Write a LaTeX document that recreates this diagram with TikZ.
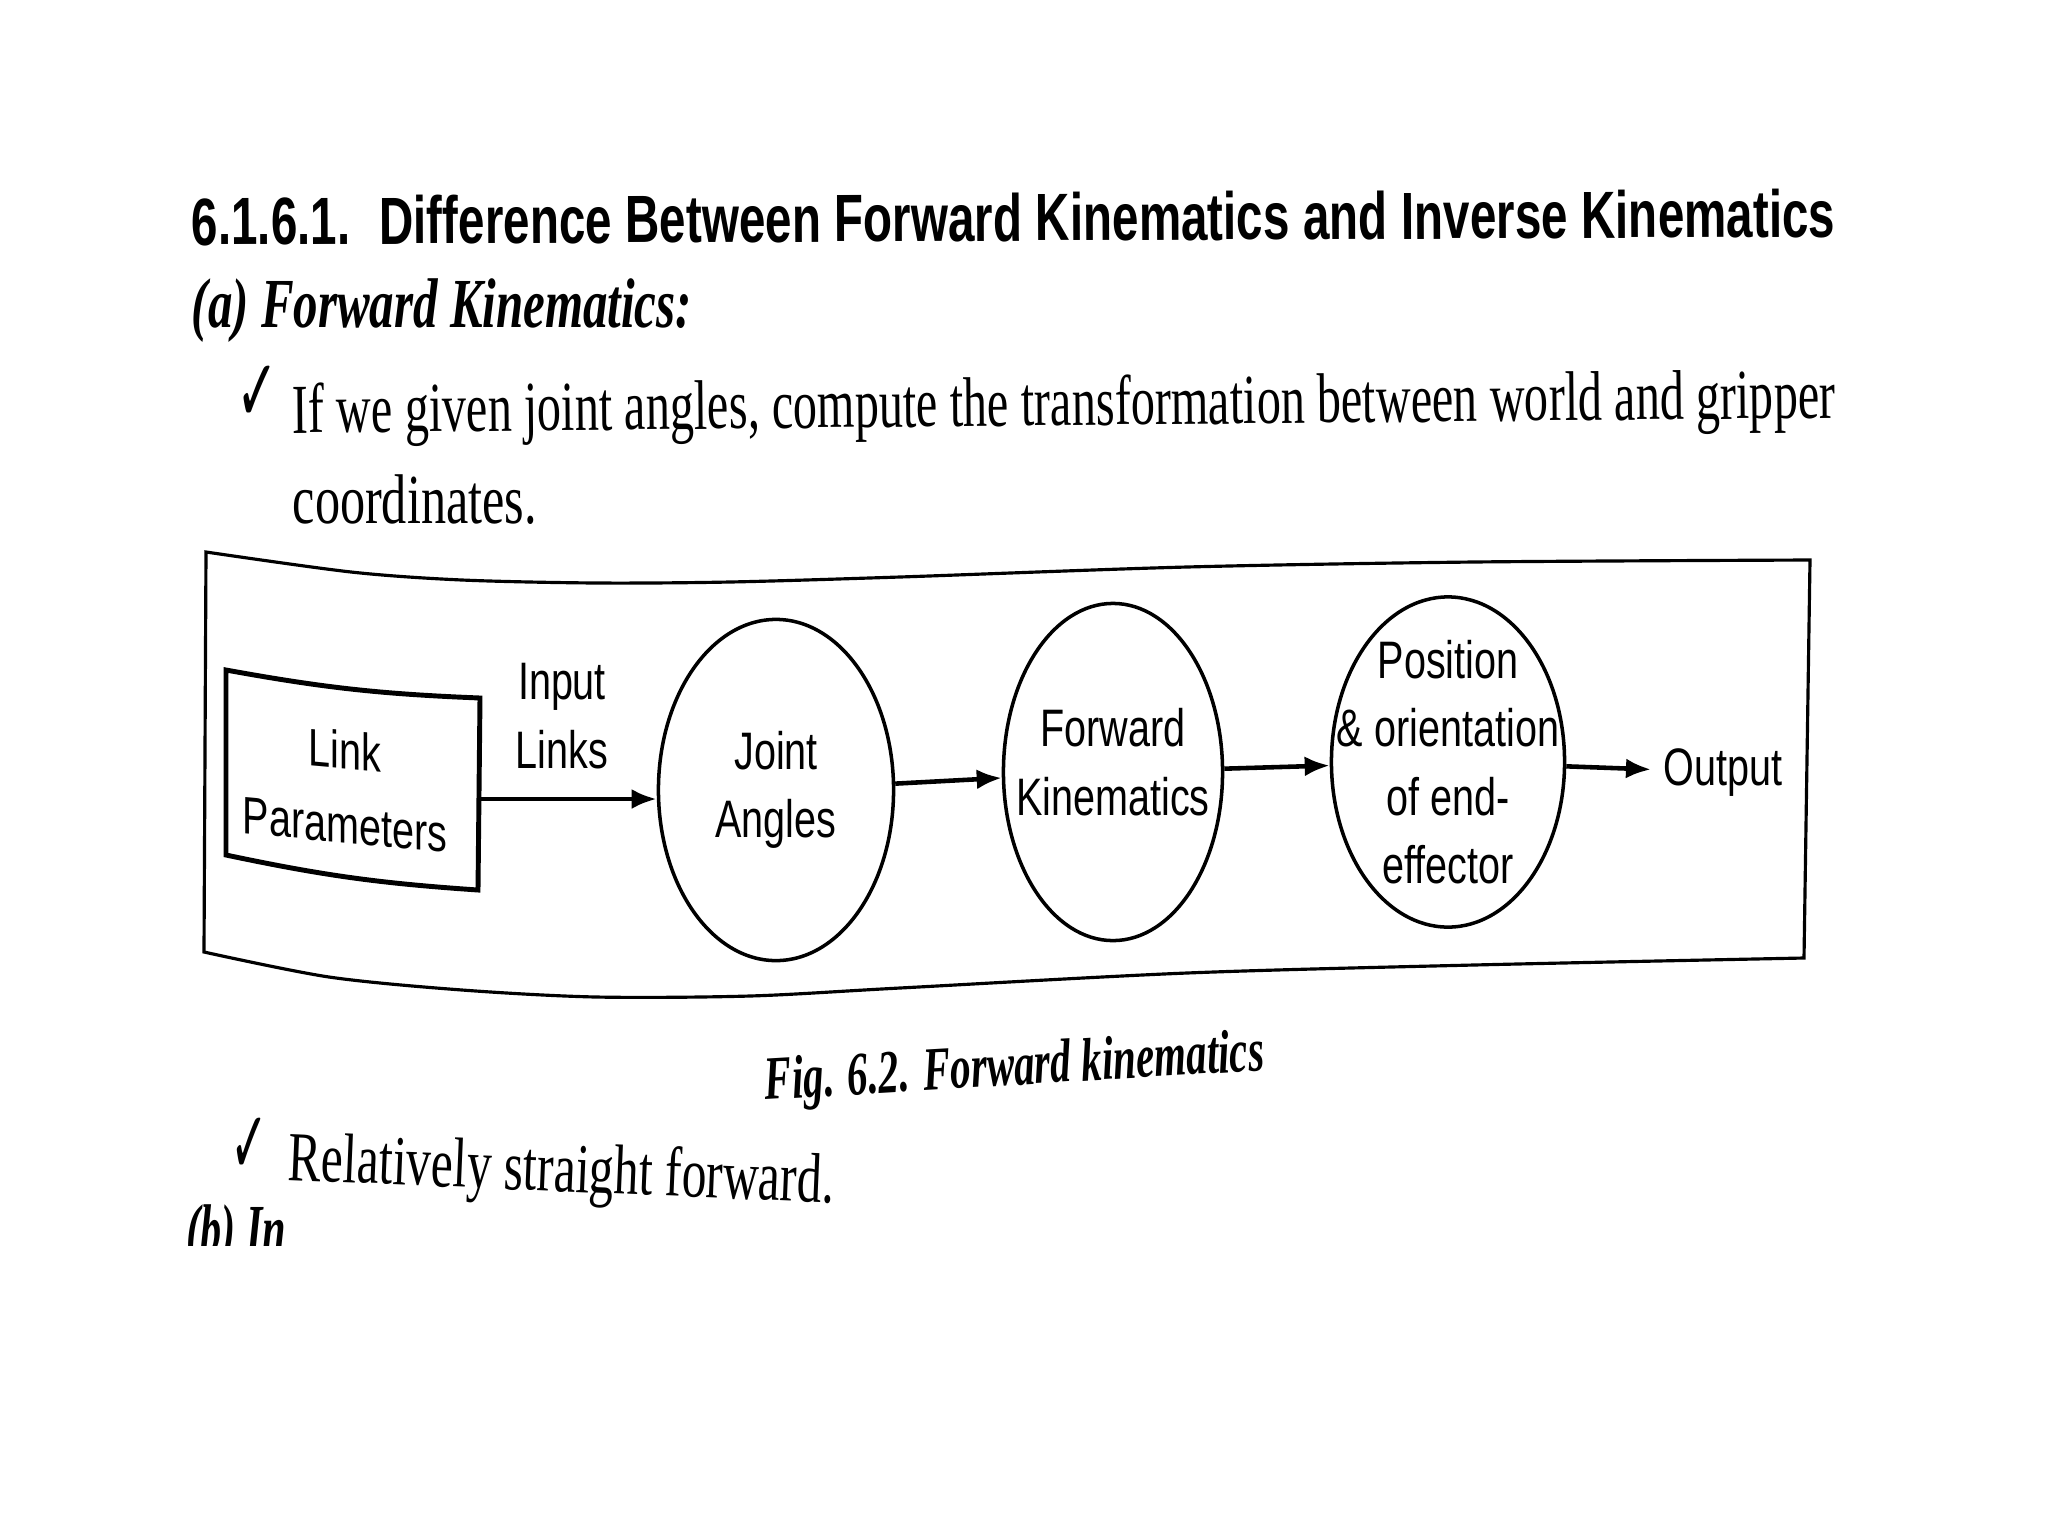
\documentclass[tikz,border=0pt]{standalone}
\usepackage{fontspec}
\usepackage{graphicx}
\setmainfont{Liberation Serif}
\newfontfamily\headfont{Liberation Sans}
\newfontfamily\diagfont[FakeStretch=0.75]{Liberation Sans}
\newfontfamily\tickfont{DejaVu Sans}
\usetikzlibrary{shapes.geometric,arrows.meta,positioning}
\newcommand{\squeeze}[2]{\resizebox{#1}{\height}{#2}}

\begin{document}
\begin{tikzpicture}[
    x=0.01cm, y=-0.01cm,
    textline/.style={anchor=base west, inner sep=0pt},
    tick/.style={anchor=base west, inner sep=0pt, font=\tickfont\fontsize{25}{25}\selectfont},
    diagtext/.style={align=center, inner sep=0pt, font=\diagfont\fontsize{15}{19.5}\selectfont},
    stage/.style={ellipse, draw, line width=1pt, inner sep=0pt},
    arr/.style={line width=1.3pt, -{Latex[length=0.25cm,width=0.2cm]}}
]
    \useasboundingbox[fill=white] (0,0) rectangle (2048,1536);

    % page text above the figure
    \node[textline, rotate=0.28] (title) at (191,245)
        {\headfont\bfseries\fontsize{19}{19}\selectfont\squeeze{16.43cm}{6.1.6.1.\hspace{0.6em}Difference Between Forward Kinematics and Inverse Kinematics}};
    \node[textline] (parta) at (191,327)
        {\bfseries\itshape\fontsize{20}{20}\selectfont\squeeze{5.0cm}{(a) Forward Kinematics:}};
    \node[tick] (tick1) at (236,421) {\squeeze{0.42cm}{✓}};
    \node[textline, rotate=0.56] (line1) at (292,433)
        {\fontsize{20}{20}\selectfont\squeeze{15.42cm}{If we given joint angles, compute the transformation between world and gripper}};
    \node[textline] (line2) at (292,523)
        {\fontsize{20}{20}\selectfont\squeeze{2.44cm}{coordinates.}};

    % warped outer frame
    \draw[line width=0.9pt]
        plot[smooth] coordinates {(206,552) (351,572) (462,580) (596,583) (730,582) (900,577) (1187,567) (1474,562) (1810,560)}
        -- plot[smooth] coordinates {(1804,958) (1474,965) (1187,973) (900,988) (750,996) (596,997) (462,990) (329,977) (204,952)}
        -- cycle;

    % link parameters box
    \coordinate (lp-nw) at (226,670);
    \coordinate (lp-ne) at (480,698);
    \coordinate (lp-se) at (478,890);
    \coordinate (lp-sw) at (226,855);
    \coordinate (lp-out) at (479,799);
    \draw[line width=1.4pt] (lp-nw) to[bend right=4] (lp-ne) -- (lp-se) to[bend left=4] (lp-sw) -- cycle;
    \node[diagtext, yslant=-0.09, font=\diagfont\fontsize{15}{21}\selectfont] (link) at (345,787) {Link\\Parameters};

    \node[diagtext] (inlinks) at (562,716) {Input\\Links};

    \node[stage, minimum width=2.35cm, minimum height=3.41cm,
        label={[diagtext]center:Joint\\Angles}] (joint) at (776,790) {};
    \node[stage, minimum width=2.19cm, minimum height=3.37cm,
        label={[diagtext, yshift=0.1cm]center:Forward\\Kinematics}] (fk) at (1113,772) {};
    \node[stage, minimum width=2.33cm, minimum height=3.30cm,
        label={[diagtext]center:Position\\\&~orientation\\of end-\\effector}] (pose) at (1448,762) {};
    \node[diagtext, anchor=base west, inner xsep=0.12cm] (out) at (1651,785) {Output};

    \draw[arr] (lp-out) -- (lp-out -| joint.west);
    \draw[arr] (joint) -- (fk);
    \draw[arr] (fk) -- (pose);
    \draw[arr] (pose) -- (out);

    % caption and text below
    \node[textline, rotate=3.4] (caption) at (765,1100)
        {\bfseries\itshape\fontsize{17.5}{17.5}\selectfont\squeeze{5.0cm}{Fig. 6.2. Forward kinematics}};
    \node[tick] (tick2) at (230,1173) {\squeeze{0.38cm}{✓}};
    \node[textline, rotate=-2.4] (line3) at (287,1180)
        {\fontsize{20}{20}\selectfont\squeeze{5.46cm}{Relatively straight forward.}};
    \begin{scope}
        \clip (150,1150) rectangle (300,1245);
        \node[textline] (partb) at (186,1253)
            {\bfseries\itshape\fontsize{20}{20}\selectfont\scalebox{0.6}[1]{(b) In}};
    \end{scope}
\end{tikzpicture}
\end{document}
